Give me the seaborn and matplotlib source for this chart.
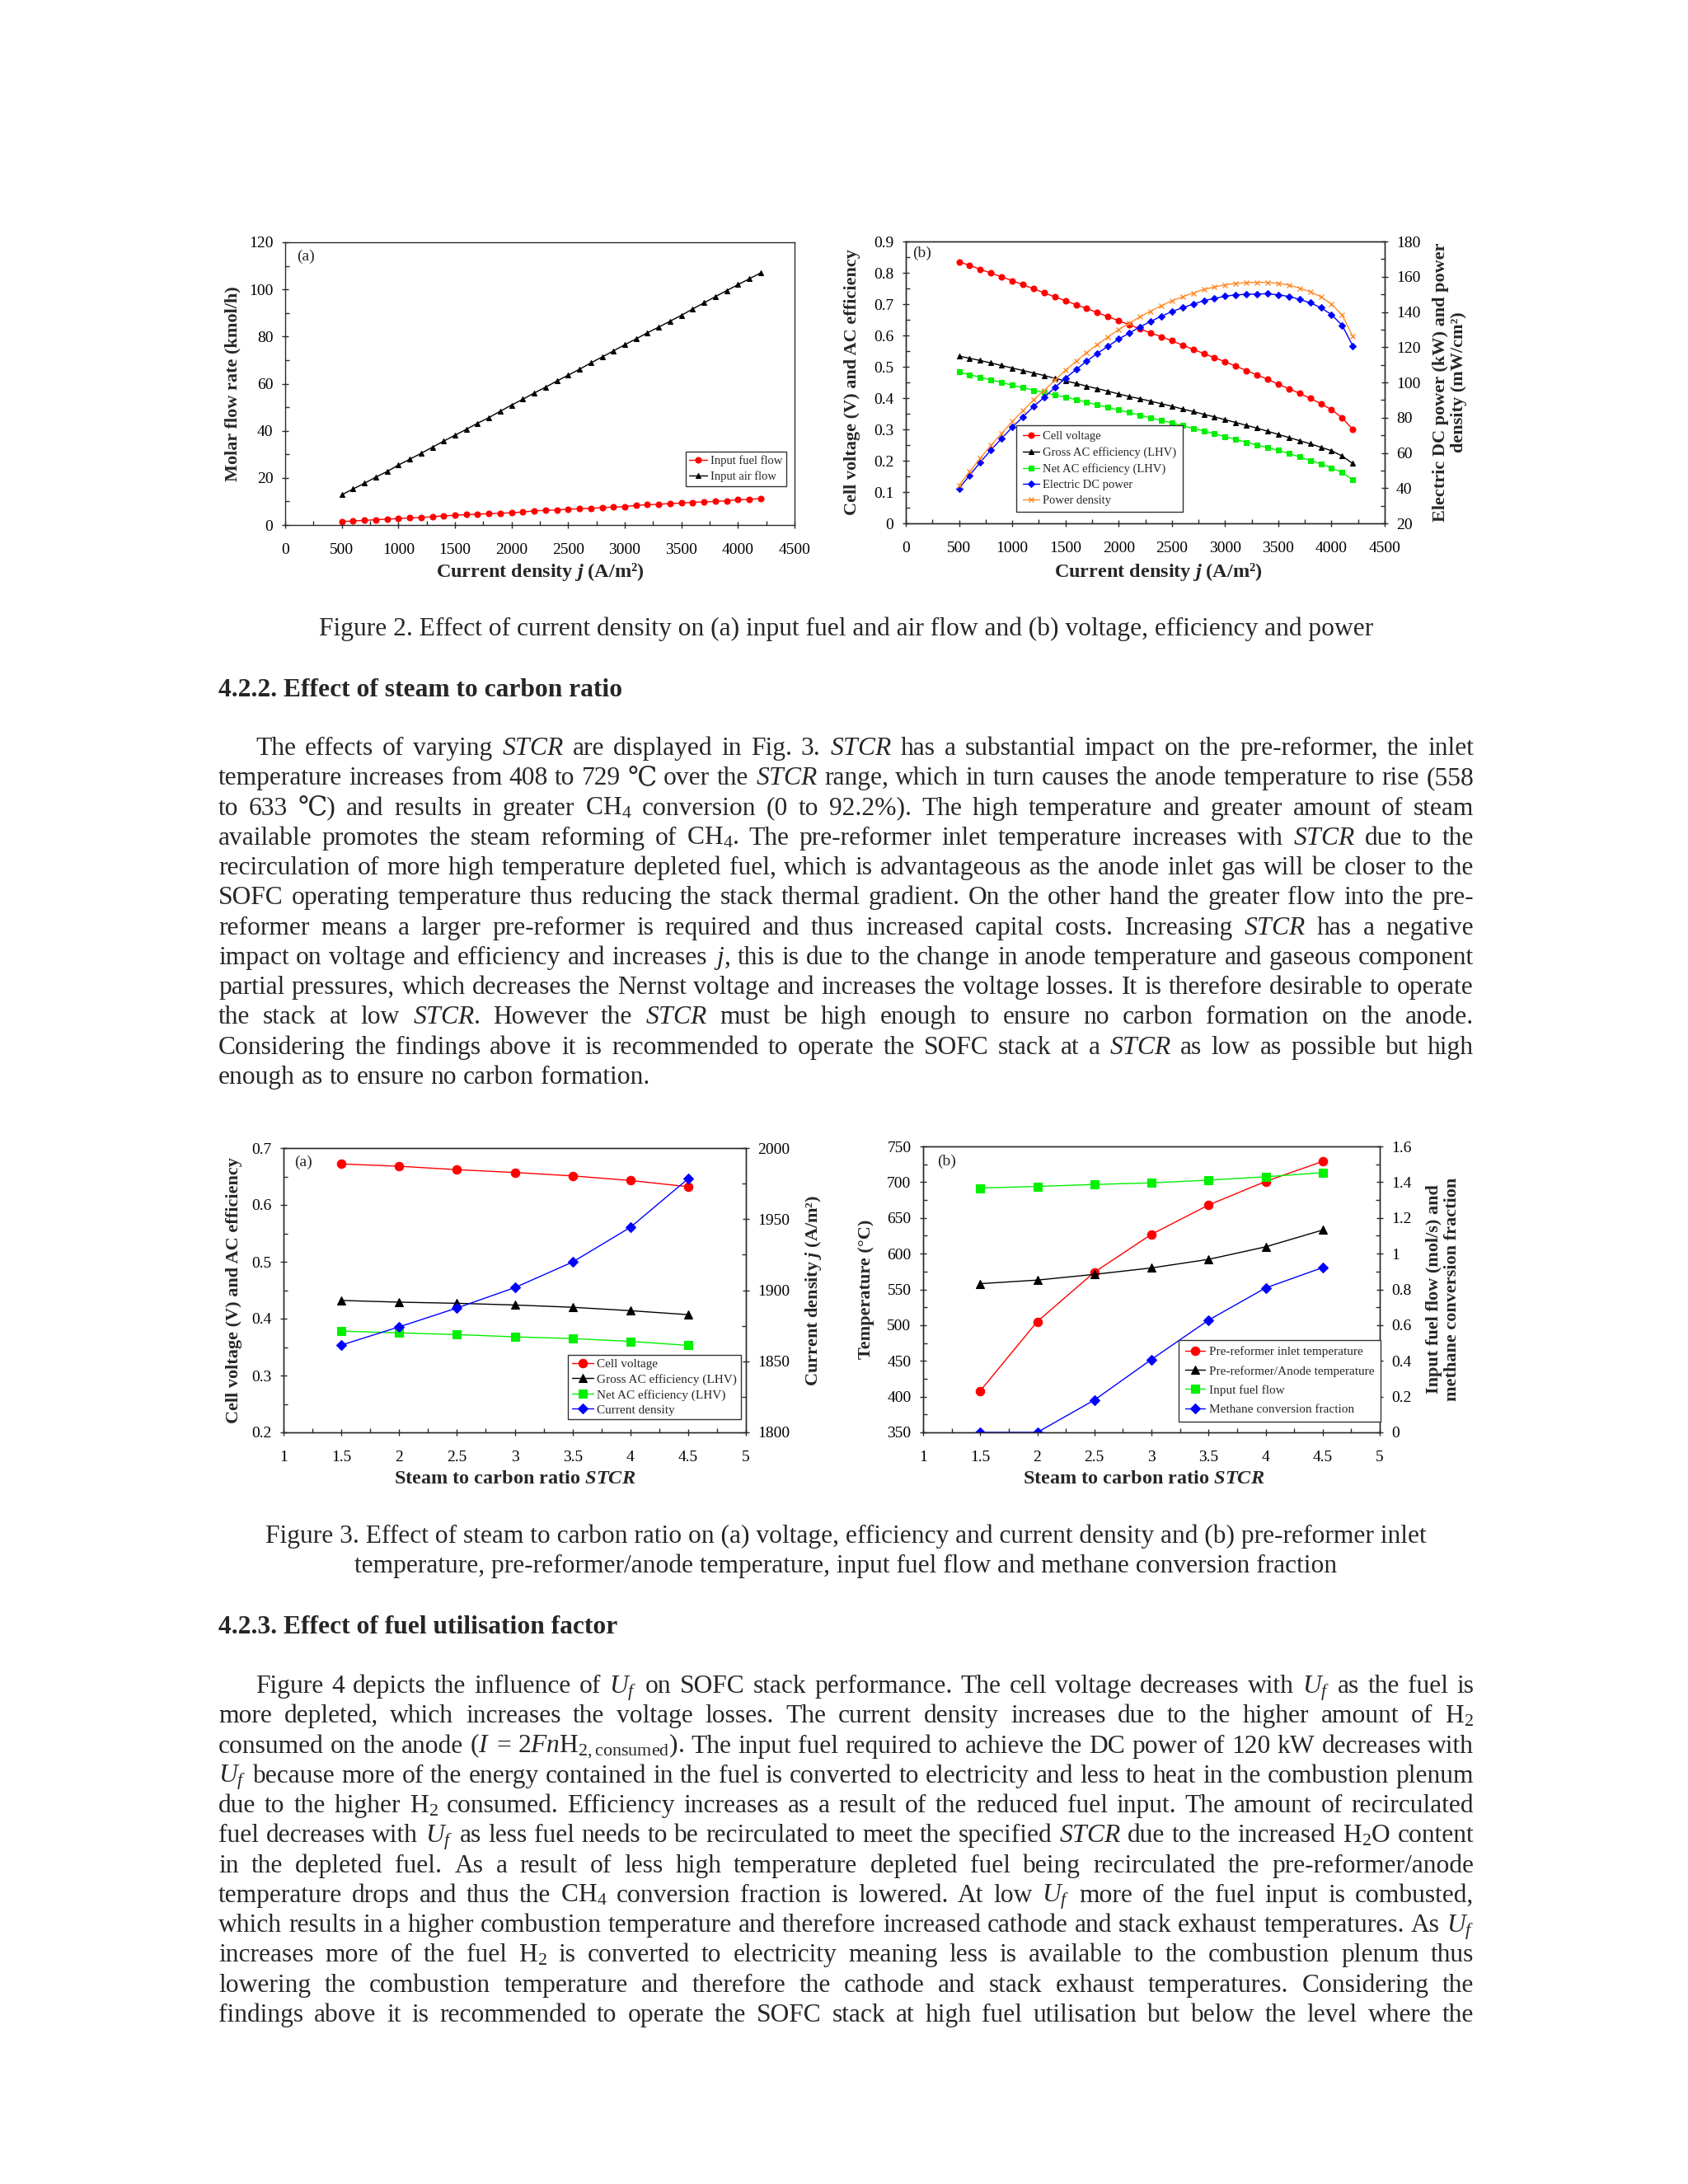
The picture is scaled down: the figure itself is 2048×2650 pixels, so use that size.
import matplotlib
matplotlib.use("Agg")
import matplotlib.pyplot as plt
import seaborn as sns
from matplotlib.ticker import MultipleLocator, FuncFormatter

# ---------------- data ----------------
j_fig2 = [500, 600, 700, 800, 900, 1000, 1100, 1200, 1300, 1400, 1500, 1600, 1700,
          1800, 1900, 2000, 2100, 2200, 2300, 2400, 2500, 2600, 2700, 2800, 2900,
          3000, 3100, 3200, 3300, 3400, 3500, 3600, 3700, 3800, 3900, 4000, 4100, 4200]

fuel_flow = [1.5, 1.7, 2.0, 2.2, 2.5, 2.7, 3.0, 3.2, 3.5, 3.9, 4.1, 4.4, 4.6, 4.8, 5.0,
             5.2, 5.5, 6.0, 6.2, 6.4, 6.7, 6.9, 7.1, 7.4, 7.6, 7.8, 8.3, 8.6, 8.8, 9.1,
             9.3, 9.6, 9.8, 10.0, 10.3, 10.7, 10.9, 11.2]
air_flow = [12.8, 15.3, 17.7, 20.3, 22.7, 25.4, 27.9, 30.4, 33.0, 35.6, 38.1, 40.6, 43.2,
            45.6, 48.3, 50.9, 53.4, 56.0, 58.5, 61.1, 63.6, 66.1, 68.8, 71.3, 73.9, 76.5,
            79.0, 81.6, 84.0, 86.5, 89.0, 91.7, 94.3, 96.9, 99.5, 102.0, 104.5, 107.0]

cell_voltage = [0.835, 0.824, 0.811, 0.799, 0.787, 0.775, 0.762, 0.749, 0.736, 0.723,
                0.711, 0.698, 0.686, 0.673, 0.660, 0.647, 0.634, 0.621, 0.608, 0.596,
                0.583, 0.569, 0.556, 0.542, 0.529, 0.516, 0.502, 0.488, 0.474, 0.460,
                0.444, 0.430, 0.415, 0.399, 0.382, 0.363, 0.337, 0.300]
gross_ac = [0.534, 0.527, 0.520, 0.512, 0.504, 0.496, 0.488, 0.480, 0.472, 0.463, 0.455,
            0.447, 0.438, 0.430, 0.422, 0.413, 0.405, 0.398, 0.390, 0.382, 0.374, 0.365,
            0.357, 0.348, 0.340, 0.331, 0.322, 0.313, 0.304, 0.294, 0.284, 0.274, 0.264,
            0.254, 0.243, 0.232, 0.215, 0.191]
net_ac = [0.483, 0.475, 0.466, 0.458, 0.450, 0.441, 0.433, 0.425, 0.418, 0.410, 0.403,
          0.395, 0.387, 0.378, 0.370, 0.362, 0.354, 0.345, 0.337, 0.329, 0.320, 0.312,
          0.303, 0.295, 0.286, 0.277, 0.268, 0.259, 0.250, 0.242, 0.233, 0.223, 0.212,
          0.201, 0.190, 0.177, 0.162, 0.139]
dc_power = [39.8, 47.3, 54.7, 61.7, 68.1, 74.6, 80.4, 86.3, 91.5, 97.0, 102.4, 107.3,
            112.1, 116.5, 120.5, 124.6, 128.0, 131.5, 134.6, 137.5, 140.2, 142.4, 144.4,
            146.4, 147.7, 148.9, 149.7, 150.0, 150.2, 150.3, 149.7, 148.8, 147.1, 145.2,
            142.4, 138.5, 132.4, 120.8]
power_density = [41.5, 49.3, 57.0, 64.3, 71.0, 77.8, 83.9, 90.1, 95.5, 101.2, 106.9, 112.0,
                 117.0, 121.5, 125.8, 130.0, 133.6, 137.2, 140.4, 143.5, 146.3, 148.6,
                 150.7, 152.8, 154.1, 155.4, 156.2, 156.6, 156.8, 156.8, 156.2, 155.3,
                 153.5, 151.5, 148.6, 144.5, 138.2, 126.2]

stcr = [1.5, 2.0, 2.5, 3.0, 3.5, 4.0, 4.5]
cell_voltage_s = [0.672, 0.668, 0.662, 0.657, 0.651, 0.643, 0.632]
gross_ac_s = [0.432, 0.429, 0.427, 0.424, 0.420, 0.414, 0.407]
net_ac_s = [0.378, 0.375, 0.372, 0.368, 0.365, 0.360, 0.353]
current_density_s = [1861.4, 1874.2, 1887.5, 1901.8, 1919.8, 1944.2, 1978.4]

prereformer_inlet_T = [408, 505, 574, 627, 668, 701, 729]
prereformer_anode_T = [558, 563, 571, 580, 592, 609.5, 633]
input_fuel_flow_s = [1.367, 1.376, 1.387, 1.396, 1.411, 1.430, 1.453]
methane_conversion = [0.0, 0.0, 0.181, 0.408, 0.628, 0.808, 0.922]

caption_fig2 = "Figure 2. Effect of current density on (a) input fuel and air flow and (b) voltage, efficiency and power"
heading_1 = "4.2.2. Effect of steam to carbon ratio"
para_1 = [
    r"The effects of varying $\mathit{STCR}$ are displayed in Fig. 3. $\mathit{STCR}$ has a substantial impact on the pre-reformer, the inlet",
    r"temperature increases from 408 to 729 ℃ over the $\mathit{STCR}$ range, which in turn causes the anode temperature to rise (558",
    r"to 633 ℃) and results in greater CH$_4$ conversion (0 to 92.2%). The high temperature and greater amount of steam",
    r"available promotes the steam reforming of CH$_4$. The pre-reformer inlet temperature increases with $\mathit{STCR}$ due to the",
    r"recirculation of more high temperature depleted fuel, which is advantageous as the anode inlet gas will be closer to the",
    r"SOFC operating temperature thus reducing the stack thermal gradient. On the other hand the greater flow into the pre-",
    r"reformer means a larger pre-reformer is required and thus increased capital costs. Increasing $\mathit{STCR}$ has a negative",
    r"impact on voltage and efficiency and increases $j$, this is due to the change in anode temperature and gaseous component",
    r"partial pressures, which decreases the Nernst voltage and increases the voltage losses. It is therefore desirable to operate",
    r"the stack at low $\mathit{STCR}$. However the $\mathit{STCR}$ must be high enough to ensure no carbon formation on the anode.",
    r"Considering the findings above it is recommended to operate the SOFC stack at a $\mathit{STCR}$ as low as possible but high",
    r"enough as to ensure no carbon formation.",
]
caption_fig3 = [
    "Figure 3. Effect of steam to carbon ratio on (a) voltage, efficiency and current density and (b) pre-reformer inlet",
    "temperature, pre-reformer/anode temperature, input fuel flow and methane conversion fraction",
]
heading_2 = "4.2.3. Effect of fuel utilisation factor"
para_2 = [
    r"Figure 4 depicts the influence of $U_f$ on SOFC stack performance. The cell voltage decreases with $U_f$ as the fuel is",
    r"more depleted, which increases the voltage losses. The current density increases due to the higher amount of H$_2$",
    r"consumed on the anode ($I$ = 2$Fn$H$_{2,\mathrm{consumed}}$). The input fuel required to achieve the DC power of 120 kW decreases with",
    r"$U_f$ because more of the energy contained in the fuel is converted to electricity and less to heat in the combustion plenum",
    r"due to the higher H$_2$ consumed. Efficiency increases as a result of the reduced fuel input. The amount of recirculated",
    r"fuel decreases with $U_f$ as less fuel needs to be recirculated to meet the specified $\mathit{STCR}$ due to the increased H$_2$O content",
    r"in the depleted fuel. As a result of less high temperature depleted fuel being recirculated the pre-reformer/anode",
    r"temperature drops and thus the CH$_4$ conversion fraction is lowered. At low $U_f$ more of the fuel input is combusted,",
    r"which results in a higher combustion temperature and therefore increased cathode and stack exhaust temperatures. As $U_f$",
    r"increases more of the fuel H$_2$ is converted to electricity meaning less is available to the combustion plenum thus",
    r"lowering the combustion temperature and therefore the cathode and stack exhaust temperatures. Considering the",
    r"findings above it is recommended to operate the SOFC stack at high fuel utilisation but below the level where the",
]

# ---------------- style ----------------
sns.set_theme(style="ticks")
plt.rcParams["font.family"] = ["Liberation Serif", "DejaVu Serif", "DejaVu Sans"]
plt.rcParams["mathtext.fontset"] = "custom"
plt.rcParams["mathtext.rm"] = "Liberation Serif"
plt.rcParams["mathtext.it"] = "Liberation Serif:italic"
plt.rcParams["mathtext.bf"] = "Liberation Serif:bold"
if "mathtext.bfit" in plt.rcParams:
    plt.rcParams["mathtext.bfit"] = "Liberation Serif:italic:bold"
    BJ = r"$\mathbfit{j}$"
    BSTCR = r"$\mathbfit{STCR}$"
else:
    BJ = r"$\mathit{j}$"
    BSTCR = r"$\mathit{STCR}$"

W, H = 2048, 2650
fig = plt.figure(figsize=(W / 100, H / 100), dpi=100)
fig.patch.set_facecolor("white")

SPINE = "#2a2a2a"
TICK_FS = 14
XLAB_FS = 17.5
YLAB_FS = 16
LEG_FS = 10.5
RED, BLACK, GREEN, BLUE, ORANGE = "#FF0000", "#000000", "#00F000", "#0000FF", "#FF8C29"
fmt = FuncFormatter(lambda v, p: f"{v:g}")


def rect(l, t, r, b):
    return [l / W, 1 - b / H, (r - l) / W, (b - t) / H]


def style(ax, xlim, xmaj, xmin_, ylim, ymaj, ymin_, right=False):
    ax.set_xlim(*xlim)
    ax.set_ylim(*ylim)
    ax.xaxis.set_major_locator(MultipleLocator(xmaj))
    ax.xaxis.set_minor_locator(MultipleLocator(xmin_))
    ax.yaxis.set_major_locator(MultipleLocator(ymaj))
    ax.yaxis.set_minor_locator(MultipleLocator(ymin_))
    ax.xaxis.set_major_formatter(fmt)
    ax.yaxis.set_major_formatter(fmt)
    ax.tick_params(which="major", direction="inout", length=6, width=1, color=SPINE,
                   labelsize=TICK_FS, labelcolor="black")
    ax.tick_params(which="minor", direction="in", length=3.5, width=1, color=SPINE)
    ax.tick_params(axis="x", which="major", pad=13)
    ax.tick_params(axis="y", which="major", pad=7 if right else 7.5)
    for s in ax.spines.values():
        s.set_color(SPINE)
        s.set_linewidth(1.0)


def line(ax, x, y, color, marker, ms, label, lw=1.0, mew=0.8):
    sns.lineplot(x=x, y=y, ax=ax, color=color, marker=marker, markersize=ms,
                 markeredgecolor=color, markerfacecolor=color, markeredgewidth=mew,
                 linewidth=lw, label=label, legend=False)
    return ax.lines[-1]


def legend(ax, handles, anchor, fs, ls, bp, hl):
    lg = ax.legend(handles, [h.get_label() for h in handles], loc="upper left",
                   bbox_to_anchor=anchor, borderaxespad=0, fontsize=fs, frameon=True,
                   fancybox=False, edgecolor="#333333", framealpha=1, facecolor="white",
                   labelspacing=ls, borderpad=bp, handlelength=hl, handletextpad=0.3,
                   numpoints=1)
    lg.get_frame().set_linewidth(1.0)
    return lg


def labels(ax, xl, xpos, xy, yl, yx):
    ax.set_xlabel(xl, fontsize=XLAB_FS, fontweight="bold", va="center")
    ax.xaxis.set_label_coords(xpos, xy)
    ax.set_ylabel(yl, fontsize=YLAB_FS, fontweight="bold", va="center", ha="center")
    ax.yaxis.set_label_coords(yx, 0.5)


def right_label(ax2, text, xpos):
    ax2.set_ylabel(text, fontsize=YLAB_FS, fontweight="bold", va="center", ha="center",
                   linespacing=1.1)
    ax2.yaxis.set_label_coords(xpos, 0.5)


# ---------------- Figure 2 (a) ----------------
ax = fig.add_axes(rect(346, 294, 964, 637))
h1 = line(ax, j_fig2, fuel_flow, RED, "o", 5, "Input fuel flow")
h2 = line(ax, j_fig2, air_flow, BLACK, "^", 5, "Input air flow")
style(ax, (0, 4500), 500, 250, (0, 120), 20, 10)
labels(ax, f"Current density {BJ} (A/m²)", 0.5, -0.166, "Molar flow rate (kmol/h)", -0.102)
ax.text(0.040, 0.950, "(a)", transform=ax.transAxes, fontsize=TICK_FS, ha="center", va="center")
legend(ax, [h1, h2], (0.786, 0.259), LEG_FS, 0.36, 0.3, 1.5)

# ---------------- Figure 2 (b) ----------------
ax = fig.add_axes(rect(1099, 293, 1680, 635))
ax2 = ax.twinx()
hb1 = line(ax, j_fig2, cell_voltage, RED, "o", 5, "Cell voltage")
hb2 = line(ax, j_fig2, gross_ac, BLACK, "^", 5, "Gross AC efficiency (LHV)")
hb3 = line(ax, j_fig2, net_ac, GREEN, "s", 4.6, "Net AC efficiency (LHV)")
hb4 = line(ax2, j_fig2, dc_power, BLUE, "D", 4, "Electric DC power")
hb5 = line(ax2, j_fig2, power_density, ORANGE, "x", 5, "Power density", mew=1.0)
style(ax, (0, 4500), 500, 250, (0, 0.9), 0.1, 0.05)
style(ax2, (0, 4500), 500, 250, (20, 180), 20, 10, right=True)
labels(ax, f"Current density {BJ} (A/m²)", 0.527, -0.1725,
       "Cell voltage (V) and AC efficiency", -0.112)
right_label(ax2, "Electric DC power (kW) and power\ndensity (mW/cm²)", 1.136)
ax.text(0.034, 0.959, "(b)", transform=ax.transAxes, fontsize=TICK_FS, ha="center", va="center")
legend(ax2, [hb1, hb2, hb3, hb4, hb5], (0.231, 0.348), LEG_FS, 0.4, 0.5, 1.4)

# ---------------- Figure 3 (a) ----------------
ax = fig.add_axes(rect(344, 1393, 905, 1738))
ax2 = ax.twinx()
hc1 = line(ax, stcr, cell_voltage_s, RED, "o", 7.5, "Cell voltage")
hc2 = line(ax, stcr, gross_ac_s, BLACK, "^", 7.5, "Gross AC efficiency (LHV)")
hc3 = line(ax, stcr, net_ac_s, GREEN, "s", 7, "Net AC efficiency (LHV)")
hc4 = line(ax2, stcr, current_density_s, BLUE, "D", 6, "Current density")
style(ax, (1, 5), 0.5, 0.25, (0.2, 0.7), 0.1, 0.05)
style(ax2, (1, 5), 0.5, 0.25, (1800, 2000), 50, 25, right=True)
labels(ax, f"Steam to carbon ratio {BSTCR}", 0.5, -0.165,
       "Cell voltage (V) and AC efficiency", -0.107)
right_label(ax2, f"Current density {BJ} (A/m²)", 1.146)
ax.text(0.043, 0.951, "(a)", transform=ax.transAxes, fontsize=TICK_FS, ha="center", va="center")
legend(ax2, [hc1, hc2, hc3, hc4], (0.615, 0.272), 11, 0.3, 0.3, 1.7)

# ---------------- Figure 3 (b) ----------------
ax = fig.add_axes(rect(1120, 1391, 1674, 1738))
ax2 = ax.twinx()
hd1 = line(ax, stcr, prereformer_inlet_T, RED, "o", 7.5, "Pre-reformer inlet temperature")
hd2 = line(ax, stcr, prereformer_anode_T, BLACK, "^", 7.5, "Pre-reformer/Anode temperature")
hd3 = line(ax2, stcr, input_fuel_flow_s, GREEN, "s", 7, "Input fuel flow")
hd4 = line(ax2, stcr, methane_conversion, BLUE, "D", 6, "Methane conversion fraction")
style(ax, (1, 5), 0.5, 0.25, (350, 750), 50, 25)
style(ax2, (1, 5), 0.5, 0.25, (0, 1.6), 0.2, 0.1, right=True)
labels(ax, f"Steam to carbon ratio {BSTCR}", 0.484, -0.164, "Temperature (°C)", -0.1245)
right_label(ax2, "Input fuel flow (mol/s) and\nmethane conversion fraction", 1.139)
ax.text(0.051, 0.948, "(b)", transform=ax.transAxes, fontsize=TICK_FS, ha="center", va="center")
legend(ax2, [hd1, hd2, hd3, hd4], (0.560, 0.323), 11, 0.62, 0.5, 1.6)

# ---------------- page text ----------------
FS_BODY = 22.7
LEFT, RIGHT, INDENT = 265, 1788, 45
PITCH = 36.27
renderer = fig.canvas.get_renderer()


def page_text(x, y, s, **kw):
    return fig.text(x / W, 1 - y / H, s, fontsize=FS_BODY, va="baseline", **kw)


def paragraph(lines, first_baseline, justify_last=False):
    space = FS_BODY * 100 / 72 * 0.25
    for i, ln in enumerate(lines):
        y = first_baseline + i * PITCH
        x0 = LEFT + (INDENT if i == 0 else 0)
        words = ln.split(" ")
        texts = [page_text(0, y, w, ha="left") for w in words]
        widths = [t.get_window_extent(renderer=renderer).width for t in texts]
        last = (i == len(lines) - 1) and not justify_last
        if len(words) > 1 and not last:
            gap = (RIGHT - x0 - sum(widths)) / (len(words) - 1)
        else:
            gap = space
        x = x0
        for t, wd in zip(texts, widths):
            t.set_x(x / W)
            x += wd + gap


CENTER = (LEFT + RIGHT) / 2
page_text(CENTER, 771, caption_fig2, ha="center")
page_text(LEFT, 845, heading_1, ha="left", fontweight="bold")
paragraph(para_1, 916)
page_text(CENTER, 1872, caption_fig3[0], ha="center")
page_text(CENTER, 1908, caption_fig3[1], ha="center")
page_text(LEFT, 1982, heading_2, ha="left", fontweight="bold")
paragraph(para_2, 2054, justify_last=True)

fig.savefig("out.png", dpi=100, facecolor="white")
